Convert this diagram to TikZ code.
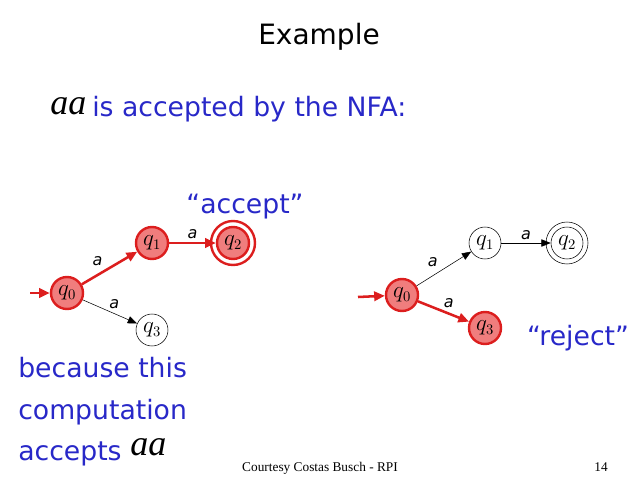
\documentclass[tikz,border=0pt]{standalone}
\usepackage{fontspec}
\setmainfont{Liberation Serif}
\newfontfamily\comic{DejaVu Sans}
\usetikzlibrary{arrows.meta}
\definecolor{slideblue}{RGB}{40,40,200}
\definecolor{nodered}{RGB}{220,30,30}
\definecolor{nodefill}{RGB}{240,125,125}
\tikzset{
  st/.style={circle,draw=black,thin,minimum size=24pt,inner sep=0pt,fill=white,font=\fontsize{16}{16}\selectfont},
  act/.style={draw=nodered,line width=1.8pt,fill=nodefill},
  tr/.style={-{Triangle[length=7pt,width=5.5pt]},thin},
  trred/.style={-{Triangle[length=8pt,width=7pt]},draw=nodered,line width=1.9pt},
  lab/.style={font=\comic\itshape\fontsize{12}{12}\selectfont},
  blue/.style={text=slideblue,font=\comic\fontsize{20}{20}\selectfont,anchor=base west,inner sep=0pt},
}
\begin{document}
\begin{tikzpicture}[x=0.75pt,y=-0.75pt]
\useasboundingbox (0,0) rectangle (638,478);
\node[font=\comic\fontsize{21}{21}\selectfont,anchor=base] (title) at (319,45) {Example};
\node[font=\fontsize{27}{27}\selectfont\itshape,anchor=base west,inner sep=0pt] (aa1) at (50,114) {aa};
\node[blue] (acc) at (92,116) {is accepted by the NFA:};
% left NFA
\node[st,act] (a0) at (67,293) {$q_0$};
\node[st,act] (a1) at (152,243) {$q_1$};
\node[st,act] (a2) at (233,243) {$q_2$};
\draw[nodered,line width=1.8pt] (a2) circle (22*0.75pt);
\node[st] (a3) at (152,330) {$q_3$};
\coordinate (ai) at (30,293);
\draw[trred] (ai) -- (a0);
\draw[trred] (a0) -- node[lab,pos=0.45,above left=-1pt] (l1) {a} (a1);
\draw[trred] (a1) -- node[lab,above=-1pt] (l2) {a} (a2);
\draw[tr] (a0) -- node[lab,pos=0.45,above right=-2pt] (l3) {a} (a3);
\node[blue,anchor=base] (accept) at (245,213) {“accept”};
% right NFA
\node[st,act] (b0) at (402,295) {$q_0$};
\node[st] (b1) at (485,243) {$q_1$};
\node[st] (b2) at (567,243) {$q_2$};
\draw[thin] (b2) circle (21*0.75pt);
\node[st,act] (b3) at (485,328) {$q_3$};
\coordinate (bi) at (358,297);
\draw[trred] (bi) -- (b0);
\draw[tr] (b0) -- node[lab,pos=0.45,above left=-1pt] (m1) {a} (b1);
\draw[tr] (b1) -- node[lab,above=-1pt] (m2) {a} (b2.west);
\draw[trred] (b0) -- node[lab,pos=0.45,above right=-2pt] (m3) {a} (b3);
\node[blue,anchor=base] (reject) at (578,345) {“reject”};
% bottom text
\node[blue] (t1) at (18,377) {because this};
\node[blue] (t2) at (18,419) {computation};
\node[blue] (t3) at (18,460) {accepts};
\node[font=\fontsize{27}{27}\selectfont\itshape,anchor=base west,inner sep=0pt] (aa2) at (130,455) {aa};
\node[font=\fontsize{10}{10}\selectfont,anchor=base] (court) at (320,471) {Courtesy Costas Busch - RPI};
\node[font=\fontsize{10}{10}\selectfont,anchor=base] (num) at (601,471) {14};
\end{tikzpicture}
\end{document}
